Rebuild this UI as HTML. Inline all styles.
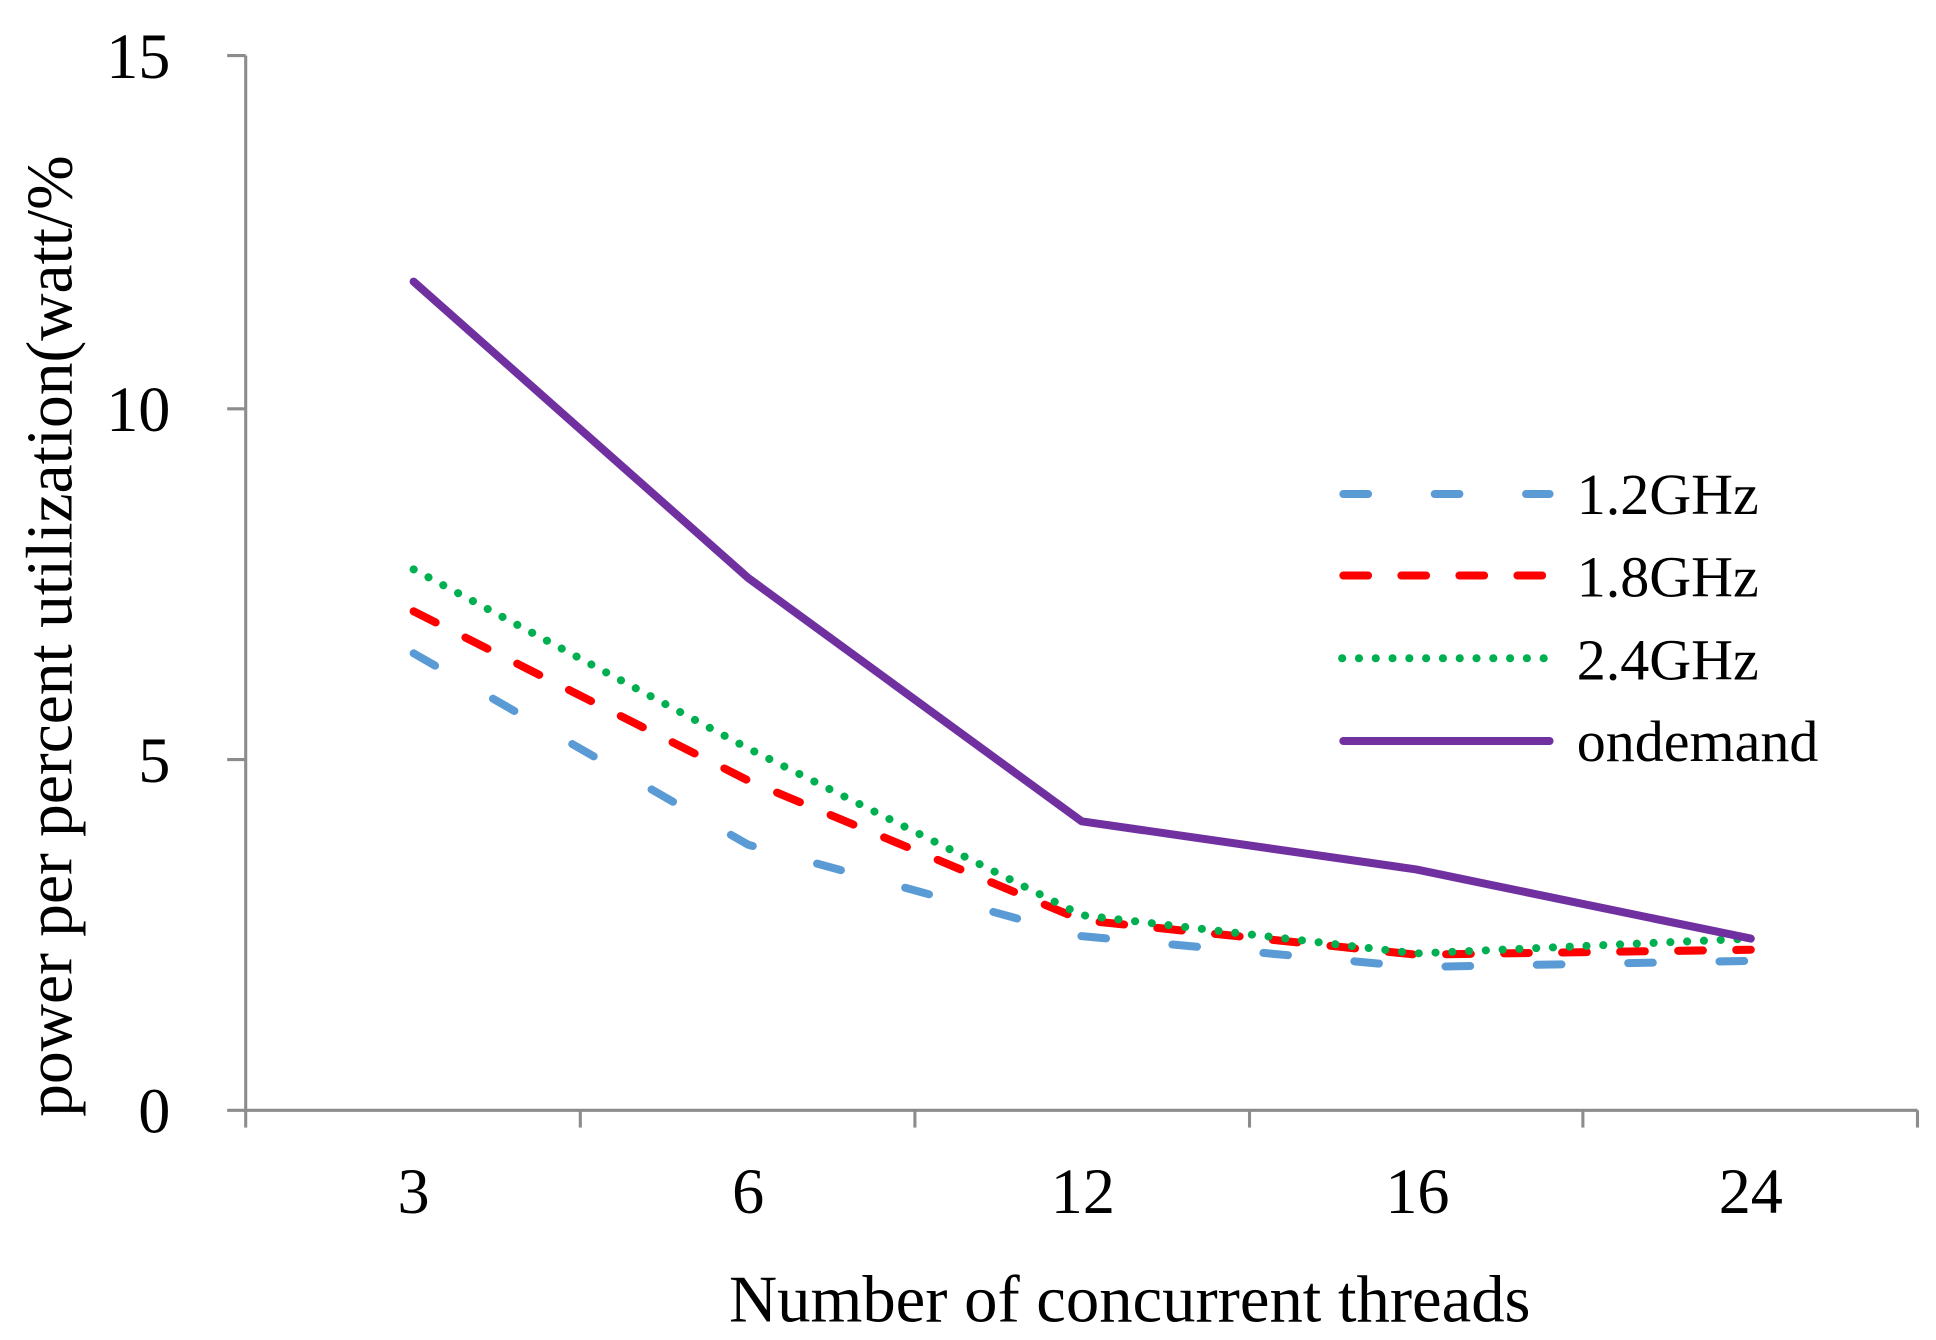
<!DOCTYPE html>
<html><head><style>html,body{margin:0;padding:0;background:#fff;}svg{display:block}</style></head>
<body>
<svg width="1936" height="1340" viewBox="0 0 1568 1085" preserveAspectRatio="none" xmlns="http://www.w3.org/2000/svg" font-family="'Liberation Serif', serif">
<g stroke="#8c8c8c" stroke-width="2.5" fill="none">
<line x1="199" y1="45" x2="199" y2="899"/>
<line x1="199" y1="899" x2="1553" y2="899"/>
<line x1="184" y1="45" x2="199" y2="45"/>
<line x1="184" y1="331" x2="199" y2="331"/>
<line x1="184" y1="615" x2="199" y2="615"/>
<line x1="184" y1="899" x2="199" y2="899"/>
<line x1="199" y1="899" x2="199" y2="913"/>
<line x1="470" y1="899" x2="470" y2="913"/>
<line x1="741" y1="899" x2="741" y2="913"/>
<line x1="1012" y1="899" x2="1012" y2="913"/>
<line x1="1282" y1="899" x2="1282" y2="913"/>
<line x1="1553" y1="899" x2="1553" y2="913"/>
</g>
<g font-size="52" text-anchor="end" fill="#000">
<text x="138" y="63">15</text>
<text x="138" y="349">10</text>
<text x="138" y="633">5</text>
<text x="138" y="917">0</text>
</g>
<g font-size="52" text-anchor="middle" fill="#000">
<text x="335" y="982">3</text>
<text x="606" y="982">6</text>
<text x="877" y="982">12</text>
<text x="1148" y="982">16</text>
<text x="1418" y="982">24</text>
<text x="915" y="1070" font-size="54">Number of concurrent threads</text>
<text transform="translate(58,515) rotate(-90)" font-size="53">power per percent utilization(watt/%</text>
</g>
<g fill="none" stroke-width="6.5" stroke-linecap="round" stroke-linejoin="round">
<polyline stroke="#5b9bd5" stroke-dasharray="20 54" points="335,529 606,684 876,758 1147,783 1418,778"/>
<polyline stroke="#ff0000" stroke-dasharray="20 27" points="335,495 606,632 876,745 1147,773 1418,769"/>
<polyline stroke="#00b050" stroke-dasharray="0.1 13.5" points="335,461 606,606 876,741 1147,772 1418,760"/>
<polyline stroke="#7030a0" points="335,228 606,468 876,665 1147,704 1418,760"/>
<line stroke="#5b9bd5" stroke-dasharray="20 54" x1="1088" y1="400" x2="1255" y2="400"/>
<line stroke="#ff0000" stroke-dasharray="20 27" x1="1088" y1="466" x2="1255" y2="466"/>
<line stroke="#00b050" stroke-dasharray="0.1 13.5" x1="1087" y1="533" x2="1255" y2="533"/>
<line stroke="#7030a0" x1="1088" y1="600" x2="1255" y2="600"/>
</g>
<g font-size="47" fill="#000">
<text x="1277" y="416">1.2GHz</text>
<text x="1277" y="483">1.8GHz</text>
<text x="1277" y="550">2.4GHz</text>
<text x="1277" y="616">ondemand</text>
</g>
</svg>
</body></html>
